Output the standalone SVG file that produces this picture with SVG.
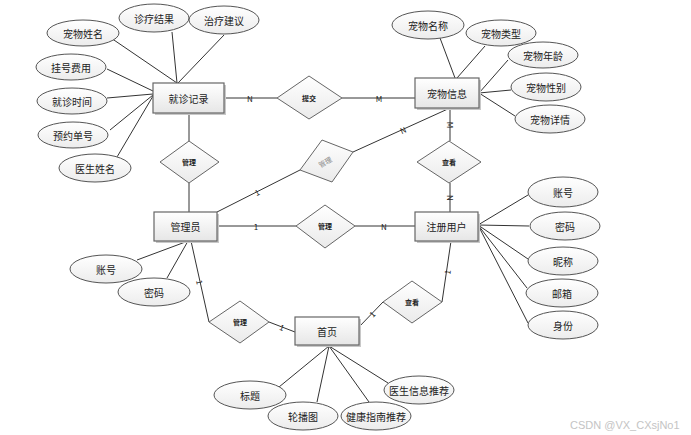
<svg xmlns="http://www.w3.org/2000/svg" width="691" height="435" viewBox="0 0 691 435">
<defs>
<linearGradient id="gEnt" x1="0" y1="0" x2="0" y2="1"><stop offset="0" stop-color="#ffffff"/><stop offset="1" stop-color="#e6e6e6"/></linearGradient>
<linearGradient id="gEll" x1="0" y1="0" x2="0" y2="1"><stop offset="0" stop-color="#ffffff"/><stop offset="1" stop-color="#ececec"/></linearGradient>
<linearGradient id="gDia" x1="0" y1="0" x2="0" y2="1"><stop offset="0" stop-color="#ffffff"/><stop offset="1" stop-color="#eaeaea"/></linearGradient>
</defs>
<style>
.ln{stroke:#333;stroke-width:1;fill:none}
.ent{fill:url(#gEnt);stroke:#666;stroke-width:1.2}
.sh{fill:#c8c8c8}
.ell{fill:url(#gEll);stroke:#555;stroke-width:1}
.dia{fill:url(#gDia);stroke:#666;stroke-width:1}
text{font-family:"Noto Sans CJK SC","Liberation Sans",sans-serif;text-anchor:middle;dominant-baseline:central;fill:#222}
.t{font-size:10px}
.d{font-size:7px;font-weight:bold}
.c{font-size:8px}
.wm{font-family:"Liberation Sans",sans-serif;font-size:11px;fill:#c4c4c4;text-anchor:start}
</style>
<rect width="691" height="435" fill="#ffffff"/>
<g id="connectors">
<line class="ln" x1="111" y1="38" x2="177" y2="83"/>
<line class="ln" x1="172" y1="32" x2="177" y2="83"/>
<line class="ln" x1="224" y1="35" x2="178" y2="83"/>
<line class="ln" x1="107" y1="69" x2="153" y2="91"/>
<line class="ln" x1="107" y1="98" x2="153" y2="94"/>
<line class="ln" x1="110" y1="130" x2="153" y2="95"/>
<line class="ln" x1="117" y1="157" x2="153" y2="96"/>
<line class="ln" x1="440" y1="38" x2="455" y2="78"/>
<line class="ln" x1="485" y1="46" x2="457" y2="78"/>
<line class="ln" x1="508" y1="60" x2="479" y2="93"/>
<line class="ln" x1="511" y1="90" x2="479" y2="93"/>
<line class="ln" x1="515" y1="116" x2="479" y2="93"/>
<line class="ln" x1="224" y1="98" x2="277" y2="98"/>
<line class="ln" x1="342" y1="98" x2="415" y2="98"/>
<line class="ln" x1="189" y1="113" x2="189" y2="141"/>
<line class="ln" x1="189" y1="183" x2="189" y2="212"/>
<line class="ln" x1="450" y1="108" x2="450" y2="141"/>
<line class="ln" x1="450" y1="183" x2="450" y2="212"/>
<line class="ln" x1="450" y1="108" x2="353" y2="152"/>
<line class="ln" x1="300" y1="170" x2="217" y2="212"/>
<line class="ln" x1="217" y1="226" x2="296" y2="226"/>
<line class="ln" x1="355" y1="226" x2="415" y2="226"/>
<line class="ln" x1="191" y1="241" x2="209" y2="322"/>
<line class="ln" x1="269" y1="322" x2="295" y2="332"/>
<line class="ln" x1="451" y1="241" x2="442" y2="302"/>
<line class="ln" x1="383" y1="302" x2="359" y2="327"/>
<line class="ln" x1="137" y1="260" x2="188" y2="241"/>
<line class="ln" x1="167" y1="278" x2="188" y2="241"/>
<line class="ln" x1="478" y1="225" x2="528" y2="195"/>
<line class="ln" x1="478" y1="225" x2="529" y2="226"/>
<line class="ln" x1="478" y1="225" x2="528" y2="259"/>
<line class="ln" x1="478" y1="225" x2="527" y2="288"/>
<line class="ln" x1="478" y1="225" x2="528" y2="323"/>
<line class="ln" x1="329" y1="346" x2="279" y2="387"/>
<line class="ln" x1="329" y1="346" x2="317" y2="402"/>
<line class="ln" x1="329" y1="346" x2="369" y2="402"/>
<line class="ln" x1="329" y1="346" x2="388" y2="383"/>
<text class="c" x="250" y="98">N</text>
<text class="c" x="379" y="98">M</text>
<text class="c" transform="translate(450,125) rotate(90)">M</text>
<text class="c" transform="translate(450,198) rotate(90)">N</text>
<text class="c" transform="translate(403,130) rotate(-24)">N</text>
<text class="c" transform="translate(257,192) rotate(-27)">1</text>
<text class="c" x="256" y="226">1</text>
<text class="c" x="384" y="226">N</text>
<text class="c" transform="translate(200,282) rotate(77)">1</text>
<text class="c" transform="translate(282,327) rotate(21)">1</text>
<text class="c" transform="translate(447,272) rotate(-82)">1</text>
<text class="c" transform="translate(372,314) rotate(-46)">1</text>
</g>
<g id="e-jiuzhen"><rect class="sh" x="155" y="85" width="71" height="30"/><rect class="ent" x="153" y="83" width="71" height="30"/><text class="t" x="188.5" y="98">就诊记录</text></g>
<g id="e-chongwu"><rect class="sh" x="417" y="80" width="64" height="30"/><rect class="ent" x="415" y="78" width="64" height="30"/><text class="t" x="447" y="93">宠物信息</text></g>
<g id="e-admin"><rect class="sh" x="156" y="214" width="63" height="29"/><rect class="ent" x="154" y="212" width="63" height="29"/><text class="t" x="185.5" y="226.5">管理员</text></g>
<g id="e-user"><rect class="sh" x="417" y="214" width="63" height="29"/><rect class="ent" x="415" y="212" width="63" height="29"/><text class="t" x="446.5" y="226.5">注册用户</text></g>
<g id="e-home"><rect class="sh" x="297" y="319" width="64" height="28"/><rect class="ent" x="295" y="317" width="64" height="28"/><text class="t" x="327" y="331">首页</text></g>
<g id="r-tijiao"><polygon class="dia" points="277,98 309,76 342,98 309,119"/><text class="d" x="309" y="98">提交</text></g>
<g id="r-guanli1"><polygon class="dia" points="160,162 189,141 219,162 189,183"/><text class="d" x="189" y="162">管理</text></g>
<g id="r-guanli2"><polygon class="dia" points="300,170 322,140 353,152 332,182"/><text class="d" fill="#888" style="fill:#888;font-weight:normal" transform="translate(325,162) rotate(-30)">管理</text></g>
<g id="r-chakan1"><polygon class="dia" points="417,162 449,141 481,162 449,183"/><text class="d" x="449" y="162">查看</text></g>
<g id="r-guanli3"><polygon class="dia" points="296,226 325,205 355,226 325,248"/><text class="d" x="325" y="226">管理</text></g>
<g id="r-guanli4"><polygon class="dia" points="209,322 240,301 269,322 240,343"/><text class="d" x="240" y="322">管理</text></g>
<g id="r-chakan2"><polygon class="dia" points="383,302 412,281 442,302 412,323"/><text class="d" x="412" y="302">查看</text></g>
<g id="a-1"><ellipse class="ell" cx="83" cy="33" rx="36" ry="13"/><text class="t" x="83" y="33">宠物姓名</text></g>
<g id="a-2"><ellipse class="ell" cx="154" cy="18" rx="35" ry="14"/><text class="t" x="154" y="18">诊疗结果</text></g>
<g id="a-3"><ellipse class="ell" cx="224" cy="20" rx="35" ry="14"/><text class="t" x="224" y="20">治疗建议</text></g>
<g id="a-4"><ellipse class="ell" cx="71" cy="67" rx="35" ry="13"/><text class="t" x="71" y="67">挂号费用</text></g>
<g id="a-5"><ellipse class="ell" cx="72" cy="101" rx="35" ry="13"/><text class="t" x="72" y="101">就诊时间</text></g>
<g id="a-6"><ellipse class="ell" cx="73" cy="135" rx="35" ry="13"/><text class="t" x="73" y="135">预约单号</text></g>
<g id="a-7"><ellipse class="ell" cx="95" cy="168" rx="36" ry="14"/><text class="t" x="95" y="168">医生姓名</text></g>
<g id="a-8"><ellipse class="ell" cx="428" cy="25" rx="36" ry="14"/><text class="t" x="428" y="25">宠物名称</text></g>
<g id="a-9"><ellipse class="ell" cx="501" cy="33" rx="35" ry="13"/><text class="t" x="501" y="33">宠物类型</text></g>
<g id="a-10"><ellipse class="ell" cx="543" cy="55" rx="35" ry="13"/><text class="t" x="543" y="55">宠物年龄</text></g>
<g id="a-11"><ellipse class="ell" cx="546" cy="87" rx="35" ry="14"/><text class="t" x="546" y="87">宠物性别</text></g>
<g id="a-12"><ellipse class="ell" cx="550" cy="119" rx="35" ry="14"/><text class="t" x="550" y="119">宠物详情</text></g>
<g id="a-13"><ellipse class="ell" cx="106" cy="269" rx="36" ry="14"/><text class="t" x="106" y="269">账号</text></g>
<g id="a-14"><ellipse class="ell" cx="154" cy="292" rx="36" ry="14"/><text class="t" x="154" y="292">密码</text></g>
<g id="a-15"><ellipse class="ell" cx="563" cy="192" rx="35" ry="15"/><text class="t" x="563" y="192">账号</text></g>
<g id="a-16"><ellipse class="ell" cx="565" cy="226" rx="35" ry="14"/><text class="t" x="565" y="226">密码</text></g>
<g id="a-17"><ellipse class="ell" cx="563" cy="261" rx="35" ry="14"/><text class="t" x="563" y="261">昵称</text></g>
<g id="a-18"><ellipse class="ell" cx="562" cy="293" rx="36" ry="14"/><text class="t" x="562" y="293">邮箱</text></g>
<g id="a-19"><ellipse class="ell" cx="563" cy="325" rx="35" ry="14"/><text class="t" x="563" y="325">身份</text></g>
<g id="a-20"><ellipse class="ell" cx="250" cy="395" rx="36" ry="14"/><text class="t" x="250" y="395">标题</text></g>
<g id="a-21"><ellipse class="ell" cx="303" cy="416" rx="35" ry="14"/><text class="t" x="303" y="416">轮播图</text></g>
<g id="a-22"><ellipse class="ell" cx="376" cy="416" rx="35" ry="14"/><text class="t" x="376" y="416">健康指南推荐</text></g>
<g id="a-23"><ellipse class="ell" cx="419" cy="390" rx="35" ry="14"/><text class="t" x="419" y="390">医生信息推荐</text></g>
<text class="wm" x="570" y="425">CSDN @VX_CXsjNo1</text>
</svg>
